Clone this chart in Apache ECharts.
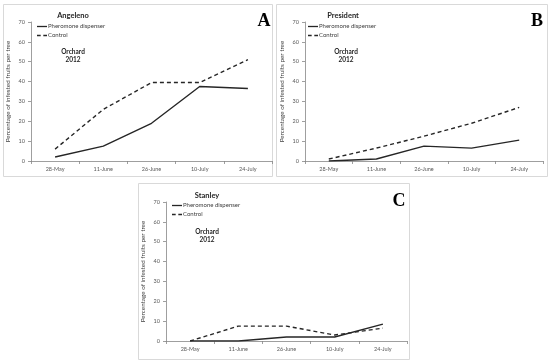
<!DOCTYPE html>
<html>
<head>
<meta charset="utf-8">
<script src="https://cdn.jsdelivr.net/npm/echarts@6/dist/echarts.min.js"></script>
<style>html,body{margin:0;padding:0;background:#fff}#c{width:550px;height:364px}</style>
</head>
<body>
<div id="c"></div>
<script>
var categories = ['28-May', '11-June', '26-June', '10-July', '24-July'];
var yTicks = [0, 10, 20, 30, 40, 50, 60, 70];
var panelNames = ['Angeleno', 'President', 'Stanley'];
var panelLetters = ['A', 'B', 'C'];
var seriesNames = ['Pheromone dispenser', 'Control'];
var angelenoPheromone = [2, 7.5, 19, 37.5, 36.5];
var angelenoControl = [6, 26, 39.5, 39.5, 51];
var presidentPheromone = [0, 1, 7.5, 6.5, 10.5];
var presidentControl = [1, 6.5, 12.5, 19, 27];
var stanleyPheromone = [0, 0, 2, 2, 8.5];
var stanleyControl = [0, 7.5, 7.5, 3, 6.5];
var yAxisTitle = 'Percentage of infested fruits per tree';
var orchardText = 'Orchard\n2012';

var FONT = 'Lato';
var grids = [
  {left: 31, top: 22, width: 241, height: 139},
  {left: 305, top: 22, width: 238, height: 139},
  {left: 166, top: 202, width: 241, height: 139}
];
var frames = [
  {x: 3.5, y: 4.5, w: 269, h: 172},
  {x: 276.5, y: 4.5, w: 271, h: 172},
  {x: 138.5, y: 183.5, w: 271, h: 176}
];
var nameX = [68, 338, 202], nameY = [7, 7, 187];
var orchX = [68, 341, 202], orchY = [43, 43, 223];
var letterX = [259, 532, 394], letterY = [7, 7, 187];
var legX = [37, 308, 172], legY = [23.5, 23.5, 202.5];
var solidIcon = 'path://M0,0h10v1.3h-10z';
var dashIcon = 'path://M0,0h3.5v1.3h-3.5zM6,0h3.5v1.3h-3.5z';
var data = [[angelenoPheromone, angelenoControl], [presidentPheromone, presidentControl], [stanleyPheromone, stanleyControl]];

var titles = [], xAxes = [], yAxes = [], series = [], legends = [], graphics = [];
for (var i = 0; i < 3; i++) {
  titles.push({text: panelNames[i], left: nameX[i], top: nameY[i], textAlign: 'center',
    textStyle: {fontFamily: FONT, fontSize: 7.5, fontWeight: 'bold', color: '#262626'}});
  titles.push({text: orchardText, left: orchX[i], top: orchY[i], textAlign: 'center',
    textStyle: {fontFamily: FONT, fontSize: 6.5, fontWeight: 'bold', color: '#262626', lineHeight: 8}});
  titles.push({text: panelLetters[i], left: letterX[i], top: letterY[i], textAlign: 'center',
    textStyle: {fontFamily: 'Liberation Serif', fontSize: 18, fontWeight: 'bold', color: '#000'}});
  xAxes.push({type: 'category', gridIndex: i, data: categories, boundaryGap: true,
    axisLine: {lineStyle: {color: '#868686', width: 0.8}},
    axisTick: {show: true, length: 3, lineStyle: {color: '#868686', width: 0.8}},
    axisLabel: {fontFamily: FONT, fontSize: 5.5, color: '#595959', margin: 5}});
  yAxes.push({type: 'value', gridIndex: i, min: yTicks[0], max: yTicks[yTicks.length - 1], interval: 10,
    name: yAxisTitle, nameLocation: 'middle', nameGap: 20,
    nameTextStyle: {fontFamily: FONT, fontSize: 6.3, color: '#404040'},
    axisLine: {show: true, lineStyle: {color: '#868686', width: 0.8}},
    axisTick: {show: true, length: 3, lineStyle: {color: '#868686', width: 0.8}},
    splitLine: {show: false},
    axisLabel: {fontFamily: FONT, fontSize: 5.5, color: '#595959', margin: 6}});
  series.push({name: seriesNames[0], type: 'line', xAxisIndex: i, yAxisIndex: i, data: data[i][0],
    symbol: 'none', lineStyle: {color: '#262626', width: 1.4}, itemStyle: {color: '#262626'}});
  series.push({name: seriesNames[1], type: 'line', xAxisIndex: i, yAxisIndex: i, data: data[i][1],
    symbol: 'none', lineStyle: {color: '#262626', width: 1.4, type: [4, 3]}, itemStyle: {color: '#262626'}});
  legends.push({orient: 'vertical', left: legX[i], top: legY[i], itemWidth: 10, itemHeight: 7, itemGap: 3,
    data: [{name: seriesNames[0], icon: solidIcon}, {name: seriesNames[1], icon: dashIcon}],
    selectedMode: false, symbolKeepAspect: true,
    itemStyle: {color: '#262626', borderWidth: 0}, lineStyle: {width: 0},
    textStyle: {fontFamily: FONT, fontSize: 6, color: '#404040', padding: [0, 0, 0, -4]}, padding: 0});
  graphics.push({type: 'rect', shape: {x: frames[i].x, y: frames[i].y, width: frames[i].w, height: frames[i].h},
    style: {fill: 'none', stroke: '#d9d9d9', lineWidth: 1}, z: -1});
}

var chart = echarts.init(document.getElementById('c'), null, {renderer: 'canvas'});
chart.setOption({
  animation: false,
  backgroundColor: '#fff',
  title: titles,
  grid: grids,
  xAxis: xAxes,
  yAxis: yAxes,
  legend: legends,
  series: series,
  graphic: graphics
});
</script>
</body>
</html>
